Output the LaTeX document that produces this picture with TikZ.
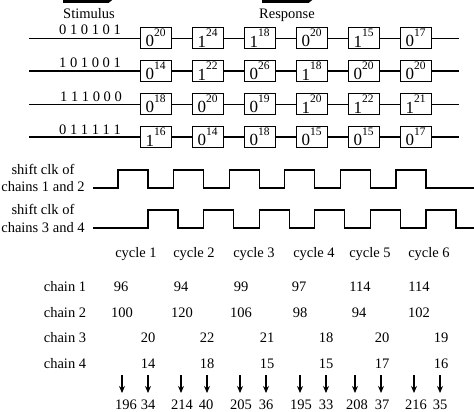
\documentclass[tikz,border=0pt]{standalone}
\usepackage{fontspec}
\setmainfont{Liberation Serif}
\usetikzlibrary{arrows.meta}
\newcommand\boxval[2]{{\fontsize{17}{17}\selectfont #1}\raisebox{10.5pt}{\fontsize{11.5}{11.5}\selectfont #2}}
\begin{document}
\begin{tikzpicture}[x=1pt,y=-1pt,
  txt/.style={inner sep=0pt, anchor=base, font=\fontsize{14.5}{17}\selectfont},
  cell/.style={draw, line width=0.9pt, minimum width=31pt, minimum height=21pt, inner sep=0pt},
  wire/.style={line width=0.9pt},
  thickwire/.style={line width=1.3pt},
  clk/.style={line width=1.1pt, line join=miter},
  arr/.style={line width=1.2pt, -{Stealth[length=7pt,width=6pt]}},
  bigarr/.style={fill=black}]
\useasboundingbox (0,0) rectangle (474,412);
\clip (0,0) rectangle (474,412);

% top arrows (cut off)
\fill[bigarr] (63,-6) -- (116,-6) -- (116,-3) -- (108.5,3) -- (63,3) -- cycle;
\fill[bigarr] (262,-6) -- (316,-6) -- (316,-3) -- (308.5,3) -- (262,3) -- cycle;
\node[txt] (stim) at (89,19) {Stimulus};
\node[txt] (resp) at (287,19) {Response};

% chain 1
\node[txt] (bits1) at (90,35) {0 1 0 1 0 1};
\foreach \v/\s [count=\i] in {0/20,1/24,1/18,0/20,1/15,0/17}
  \node[cell] (r1b\i) at ({155.5+52*(\i-1)},38) {\boxval{\v}{\s}};
\coordinate (r1s) at (29,38); \coordinate (r1e) at (459,38);
\draw[wire] (r1s) -- (r1b1) -- (r1b2) -- (r1b3) -- (r1b4) -- (r1b5) -- (r1b6) -- (r1e);

% chain 2
\node[txt] (bits2) at (90,68) {1 0 1 0 0 1};
\foreach \v/\s [count=\i] in {0/14,1/22,0/26,1/18,0/20,0/20}
  \node[cell] (r2b\i) at ({155.5+52*(\i-1)},71) {\boxval{\v}{\s}};
\coordinate (r2s) at (29,71); \coordinate (r2e) at (459,71);
\draw[thickwire] (r2s) -- (r2b1) -- (r2b2) -- (r2b3) -- (r2b4) -- (r2b5) -- (r2b6) -- (r2e);

% chain 3
\node[txt] (bits3) at (91,101) {1 1 1 0 0 0};
\foreach \v/\s [count=\i] in {0/18,0/20,0/19,1/20,1/22,1/21}
  \node[cell] (r3b\i) at ({155.5+52*(\i-1)},104) {\boxval{\v}{\s}};
\coordinate (r3s) at (29,104); \coordinate (r3e) at (459,104);
\draw[wire] (r3s) -- (r3b1) -- (r3b2) -- (r3b3) -- (r3b4) -- (r3b5) -- (r3b6) -- (r3e);

% chain 4
\node[txt] (bits4) at (90,134) {0 1 1 1 1 1};
\foreach \v/\s [count=\i] in {1/16,0/14,0/18,0/15,0/15,0/17}
  \node[cell] (r4b\i) at ({155.5+52*(\i-1)},137) {\boxval{\v}{\s}};
\coordinate (r4s) at (29,137); \coordinate (r4e) at (459,137);
\draw[thickwire] (r4s) -- (r4b1) -- (r4b2) -- (r4b3) -- (r4b4) -- (r4b5) -- (r4b6) -- (r4e);

% clocks
\node[txt] (ck1a) at (43,174) {shift clk of};
\node[txt] (ck1b) at (43,191.5) {chains 1 and 2};
\node[txt] (ck2a) at (43,214) {shift clk of};
\node[txt] (ck2b) at (43,232) {chains 3 and 4};
\draw[clk] (93,188) foreach \k in {0,...,5} { -- ({118+55.6*\k},188) -- ({118+55.6*\k},170) -- ({148+55.6*\k},170) -- ({148+55.6*\k},188) } -- (474,188);
\draw[clk] (93,228) foreach \k in {0,...,5} { -- ({148+55.6*\k},228) -- ({148+55.6*\k},210) -- ({178+55.6*\k},210) -- ({178+55.6*\k},228) } -- (474,228);

% cycles
\foreach \x [count=\i] in {136,194,254,314,370,429}
  \node[txt] (cyc\i) at (\x,257) {cycle \i};

% table
\foreach \y [count=\i] in {291,317,342.5,368}
  \node[txt] (ch\i) at (65,\y) {chain \i};
\foreach \x/\t [count=\i] in {121/96,181/94,241/99,299/97,360/114,419/114}
  \node[txt] (va\i) at (\x,291) {\t};
\foreach \x/\t [count=\i] in {122/100,182/120,241/106,300/98,359/94,419/102}
  \node[txt] (vb\i) at (\x,317) {\t};
\foreach \x/\t [count=\i] in {148/20,207/22,267/21,326/18,382/20,441/19}
  \node[txt] (vc\i) at (\x,342.5) {\t};
\foreach \x/\t [count=\i] in {148/14,207/18,267/15,326/15,382/17,441/16}
  \node[txt] (vd\i) at (\x,368) {\t};

% sums
\foreach \x/\t [count=\i] in {126/196,148/34,182/214,206/40,241/205,266/36,301/195,326/33,357/208,382/37,416/216,440/35}
  \node[txt] (s\i) at (\x,409.5) {\t};
\foreach \x [count=\i] in {122,148,181,207,240,266,300,326,355,381,414,440} {
  \coordinate (t\i) at (\x,375);
  \coordinate (h\i) at (\x,393);
  \draw[arr] (t\i) -- (h\i);
}
\end{tikzpicture}
\end{document}
